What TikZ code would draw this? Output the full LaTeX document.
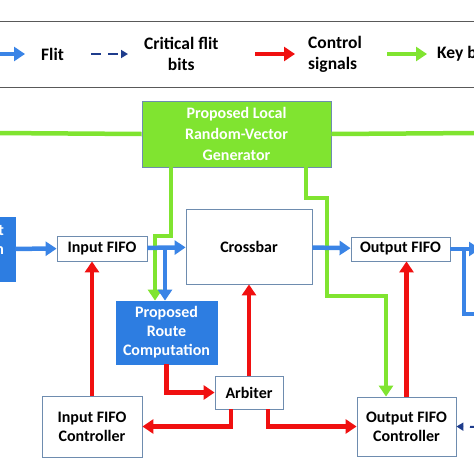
\documentclass[tikz,border=0pt]{standalone}
\usepackage{fontspec}
\setmainfont{Carlito}
\usetikzlibrary{arrows.meta}
\definecolor{flitblue}{RGB}{58,132,230}
\definecolor{boxblue}{RGB}{45,125,225}
\definecolor{critblue}{RGB}{30,60,140}
\definecolor{ctrlred}{RGB}{240,16,16}
\definecolor{keygreen}{RGB}{128,228,48}
\definecolor{edgegray}{RGB}{110,140,175}

\begin{document}
\begin{tikzpicture}[x=1pt,y=-1pt,
 box/.style={draw=edgegray,line width=.8pt,fill=white,align=center,inner sep=0pt,font=\fontsize{16}{19}\selectfont\bfseries},
 bluebox/.style={box,draw=boxblue,fill=boxblue,text=white},
 greenbox/.style={box,fill=keygreen,text=white,font=\fontsize{16}{21}\selectfont\bfseries},
 legtext/.style={font=\fontsize{17.5}{21}\selectfont\bfseries,align=left,inner sep=0pt},
 flit/.style={-{Triangle[length=11pt,width=14pt]},line width=4.5pt,draw=flitblue},
 crit/.style={-{Triangle[length=7pt,width=8pt]},line width=2pt,draw=critblue,dash pattern=on 10pt off 7pt},
 ctrl/.style={-{Triangle[length=11pt,width=14pt]},line width=4.5pt,draw=ctrlred},
 key/.style={-{Triangle[length=11pt,width=14pt]},line width=4.5pt,draw=keygreen}]
\useasboundingbox (0,0) rectangle (474,474);
\clip (0,0) rectangle (474,474);

% legend strip
\draw[line width=1pt,draw=black!65] (-5,21) rectangle (480,87);
\node[legtext,anchor=west] (lflit) at (41,54) {Flit};
\node[legtext,anchor=west,align=center] (lcrit) at (144,54) {Critical flit\\bits};
\node[legtext,anchor=west] (lctrl) at (308,54) {Control\\signals};
\node[legtext,anchor=west] (lkey) at (437,54) {Key bits};
\draw[flit] ([xshift=-48]lflit.west) -- ([xshift=-16]lflit.west);
\draw[crit] ([xshift=-53]lcrit.west) -- ([xshift=-16]lcrit.west);
\draw[ctrl] ([xshift=-53]lctrl.west) -- ([xshift=-13]lctrl.west);
\draw[key] ([xshift=-50]lkey.west) -- ([xshift=-10]lkey.west);

% router blocks
\node[greenbox,minimum width=189,minimum height=66] (gen) at (236.5,134) {Proposed Local\\Random-Vector\\Generator};
\node[bluebox,text width=88pt,align=right,inner xsep=11pt,minimum height=64] (inport) at (-40,249) {Packet Input\\Injection\\\mbox{}};
\node[box,minimum width=90,minimum height=25] (infifo) at (102,248.5) {Input FIFO};
\node[box,minimum width=126,minimum height=75] (xbar) at (249,246.5) {Crossbar};
\node[box,minimum width=99,minimum height=24] (outfifo) at (400.5,249) {Output FIFO};
\node[bluebox,minimum width=101,minimum height=63] (route) at (166.5,332.5) {Proposed\\Route\\Computation};
\node[box,minimum width=68,minimum height=33] (arb) at (249,392.5) {Arbiter};
\node[box,minimum width=100,minimum height=61] (inctrl) at (92,426.5) {Input FIFO\\Controller};
\node[box,minimum width=99,minimum height=59] (outctrl) at (406.5,426.5) {Output FIFO\\Controller};

\coordinate (keyW) at (-5,133);
\coordinate (keyE) at (480,133);
\coordinate (kbend) at (155,236);
\coordinate (kturnA) at (327,198);
\coordinate (kturnB) at (386,296);
\coordinate (split) at (165,249);
\coordinate (eastout) at (480,249);
\coordinate (obranch) at (464,249);
\coordinate (oback) at (480,314);
\coordinate (critin) at (480,427);

% key bits
\draw[key,-] (gen.west) -- (keyW);
\draw[key,-] (gen.east) -- (keyE);
\draw[key] ([xshift=-65.5]gen.south) |- (kbend) -- (kbend |- route.north);
\draw[key] ([xshift=69.5]gen.south) |- (kturnA) |- (kturnB) -- (kturnB |- outctrl.north);

% flit path
\draw[flit] (inport) -- (infifo);
\draw[flit] (infifo) -- (xbar);
\draw[flit] (xbar) -- (outfifo);
\draw[flit] (outfifo) -- (eastout);
\draw[flit,-] (obranch) |- (oback);
\draw[flit] (split) -- (split |- route.north);

% control signals
\draw[ctrl] (inctrl.north) -- (inctrl.north |- infifo.south);
\draw[ctrl] (outctrl.north) -- (outctrl.north |- outfifo.south);
\draw[ctrl] (route.south) |- (arb.west);
\draw[ctrl] (arb.north) -- (xbar.south);
\draw[ctrl] ([xshift=-18]arb.south) |- (inctrl.east);
\draw[ctrl] ([xshift=19]arb.south) |- (outctrl.west);
\draw[crit] (critin) -- (outctrl.east);
\end{tikzpicture}
\end{document}
